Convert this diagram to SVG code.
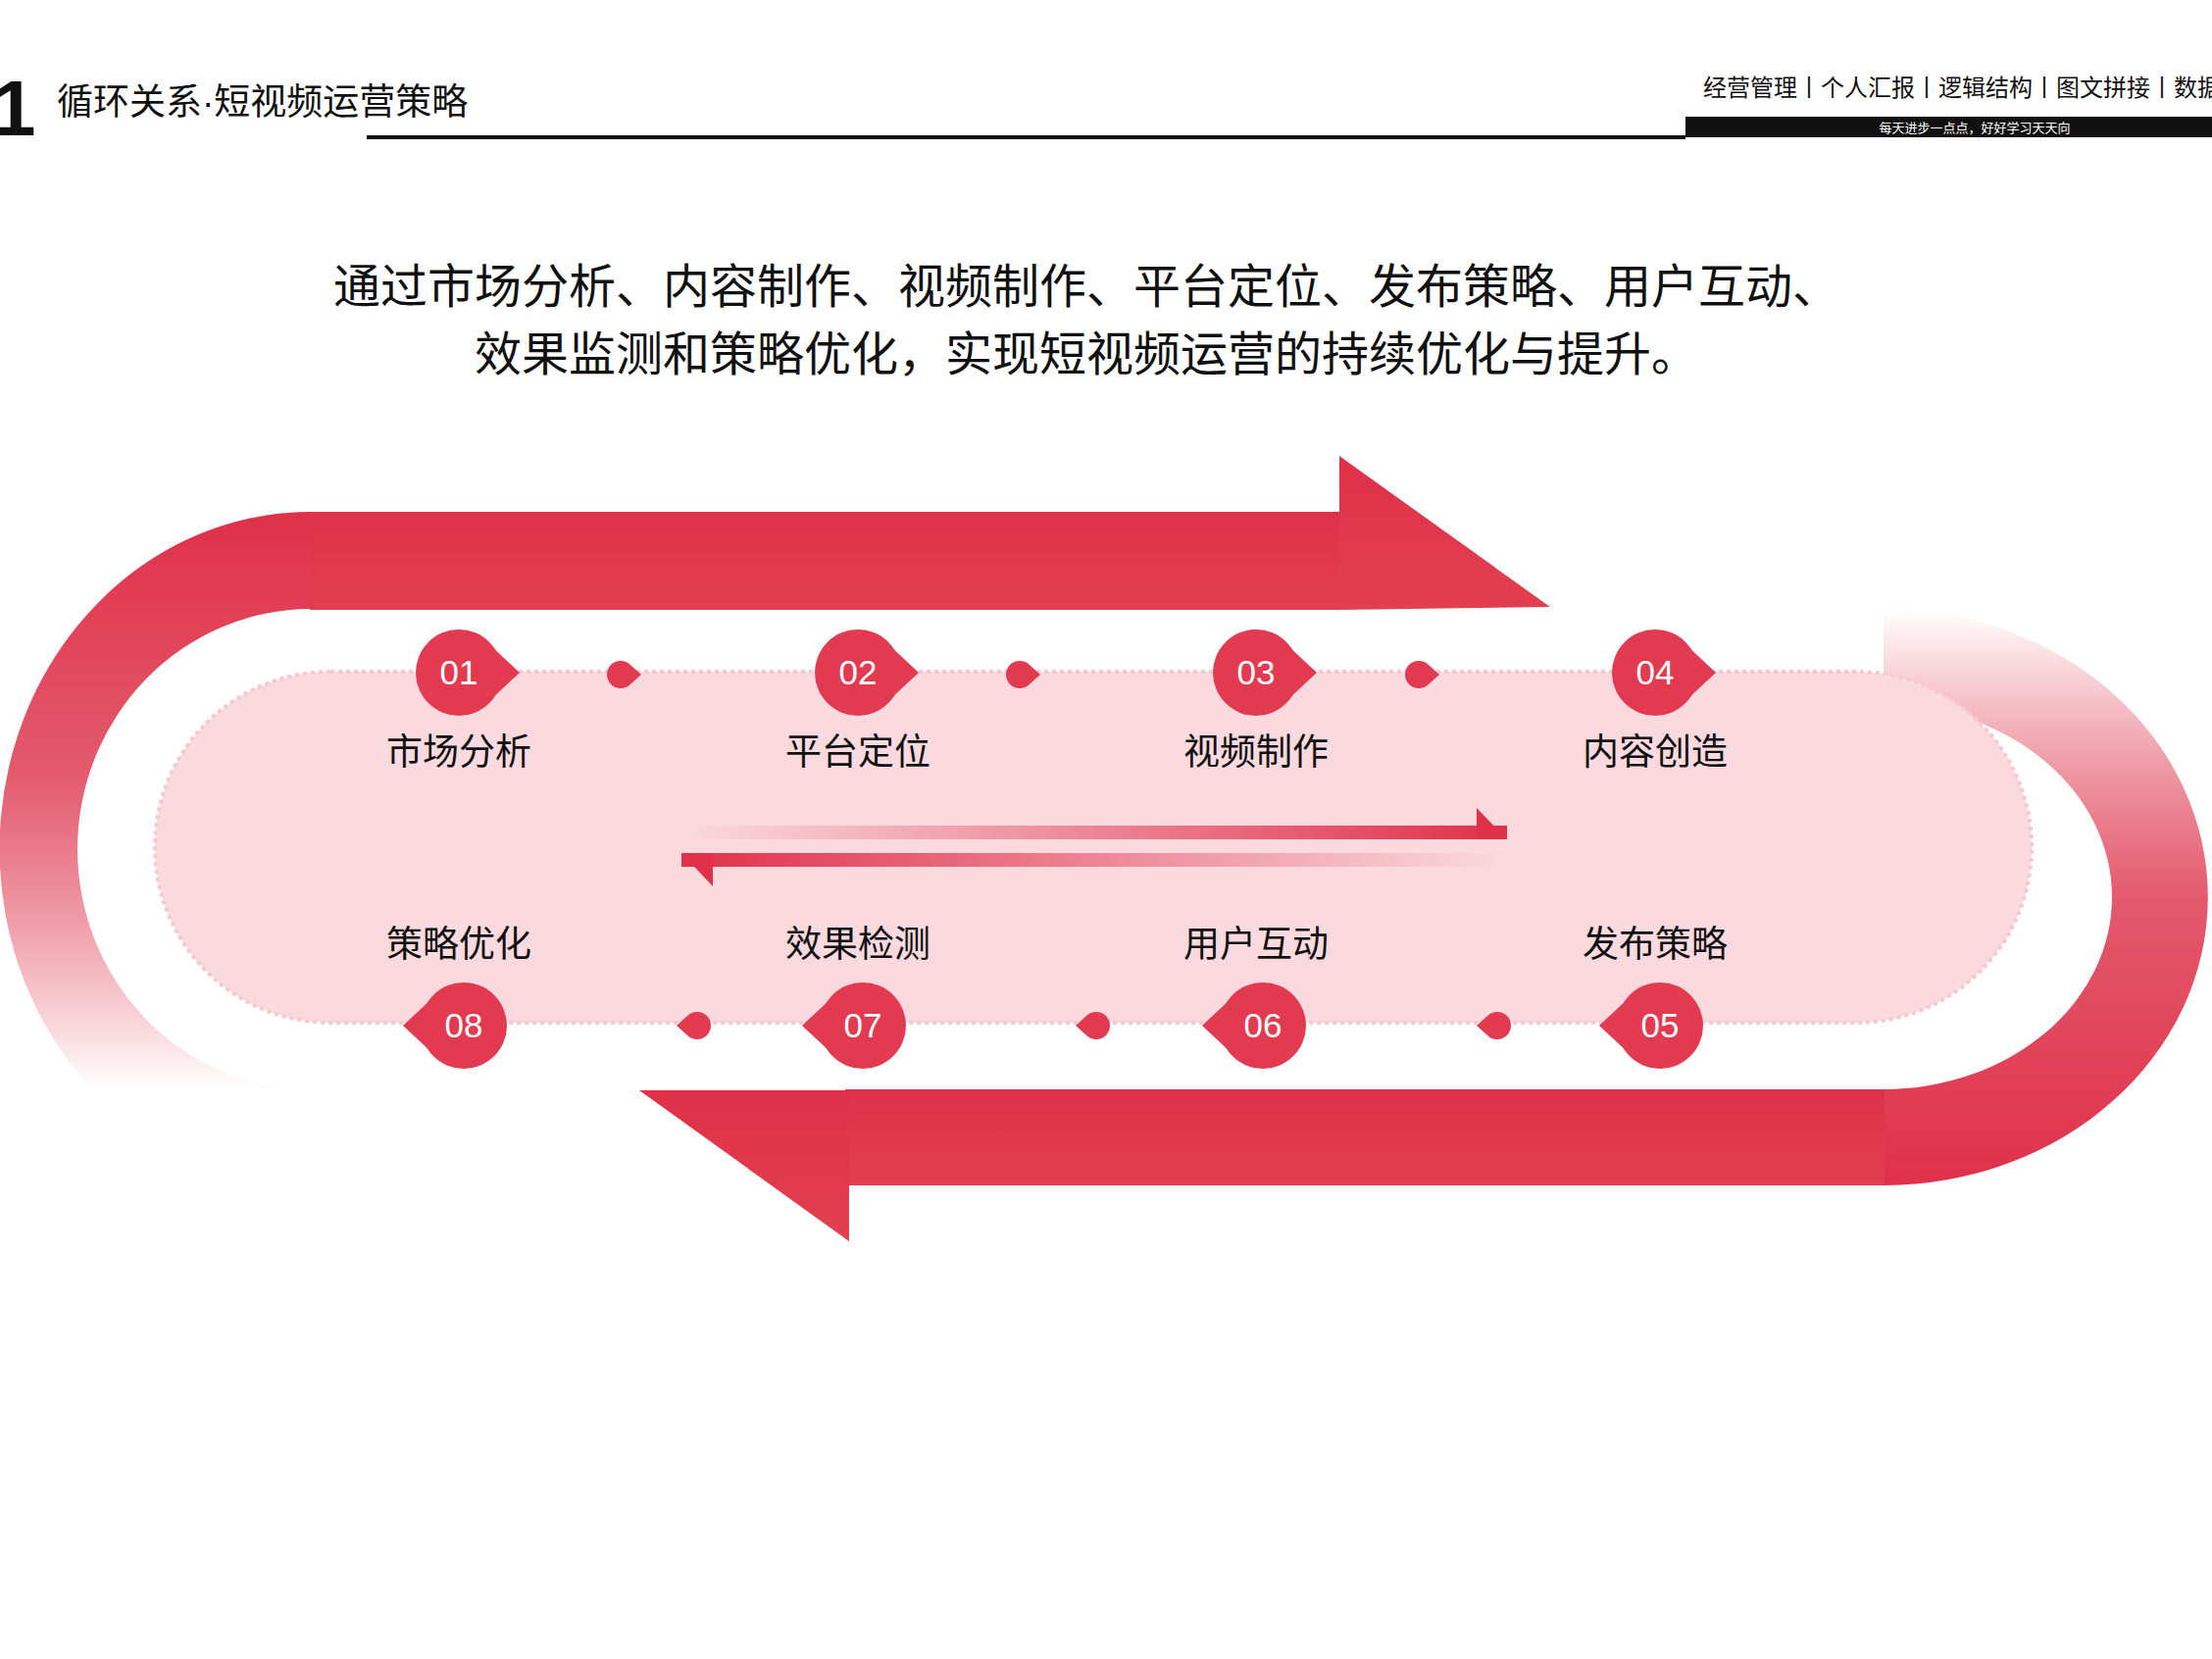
<svg xmlns="http://www.w3.org/2000/svg" width="2256" height="1692" viewBox="0 0 2256 1692">
<defs>
<style>
.t{font-family:"Liberation Sans","Noto Sans CJK SC",sans-serif;fill:#111}
.lab{font-size:37px;text-anchor:middle}
.num{font-family:"Liberation Sans","Noto Sans",sans-serif;font-size:35px;fill:#fff;text-anchor:middle}
.nc{fill:#e23a50}
</style>
<linearGradient id="band" x1="0" y1="0" x2="0" y2="1"><stop offset="0" stop-color="#e0304a"/><stop offset="1" stop-color="#e1404f"/></linearGradient>
<linearGradient id="lft" x1="0" y1="0" x2="0" y2="1"><stop offset="0" stop-color="#e0304a"/><stop offset="0.45" stop-color="#e35a6c"/><stop offset="1" stop-color="#e0304a" stop-opacity="0"/></linearGradient>
<linearGradient id="rgt" x1="0" y1="0" x2="0" y2="1"><stop offset="0" stop-color="#e0304a" stop-opacity="0"/><stop offset="0.5" stop-color="#e35a6c"/><stop offset="1" stop-color="#e0304a"/></linearGradient>
<linearGradient id="ga" x1="0" y1="0" x2="1" y2="0"><stop offset="0" stop-color="#e0304a" stop-opacity="0"/><stop offset="1" stop-color="#e0304a"/></linearGradient>
<linearGradient id="gb" x1="0" y1="0" x2="1" y2="0"><stop offset="0" stop-color="#e0304a"/><stop offset="1" stop-color="#e0304a" stop-opacity="0"/></linearGradient>
</defs>
<rect width="2256" height="1692" fill="#fff"/>
<g id="header">
<text x="-8" y="138" class="t" style="font-size:80px;font-weight:bold">1</text>
<text x="58" y="117" class="t" style="font-size:37px">循环关系·短视频运营策略</text>
<rect x="374" y="138" width="1345" height="4" fill="#111"/>
<rect x="1719" y="119" width="537" height="21" fill="#111"/>
<text x="2014" y="135" class="t" style="font-size:13px;fill:#fff;text-anchor:middle">每天进步一点点，好好学习天天向</text>
<text x="1737" y="98" class="t" style="font-size:24px">经营管理丨个人汇报丨逻辑结构丨图文拼接丨数据</text>
</g>
<g id="subtitle">
<text x="1108" y="309" class="t" style="font-size:48px;text-anchor:middle">通过市场分析、内容制作、视频制作、平台定位、发布策略、用户互动、</text>
<text x="1108" y="378" class="t" style="font-size:48px;text-anchor:middle">效果监测和策略优化，实现短视频运营的持续优化与提升。</text>
</g>
<g id="connectors">
<path d="M317 522 A317 344 0 0 0 94 1111 L317 1111 A238 245 0 0 1 317 621 Z" fill="url(#lft)"/>
<rect x="316" y="522" width="1052" height="100" fill="url(#band)"/>
<polygon points="1366,465 1581,619 1366,622" fill="url(#band)"/>
<path d="M1921 621 A331 294 0 0 1 1921 1209 L1921 1111 A233 196 0 0 0 1921 719 Z" fill="url(#rgt)"/>
<rect x="862" y="1111" width="1060" height="98" fill="url(#band)"/>
<polygon points="652,1112 866,1112 866,1266" fill="url(#band)"/>
<rect x="158" y="685" width="1914" height="358" rx="179" fill="#fadadf" stroke="#f6c9d0" stroke-width="4" stroke-dasharray="4 4"/>
<rect x="695" y="842" width="842" height="14" fill="url(#ga)"/>
<polygon points="1506,824 1537,856 1506,856" fill="#e0304a"/>
<rect x="695" y="870" width="842" height="14" fill="url(#gb)"/>
<polygon points="695,870 727,870 727,904" fill="#e0304a"/>
<g class="nc">
<circle cx="633" cy="688" r="14"/><polygon points="644,679 654,688 644,697"/>
<circle cx="1040" cy="688" r="14"/><polygon points="1051,679 1061,688 1051,697"/>
<circle cx="1447" cy="688" r="14"/><polygon points="1458,679 1468,688 1458,697"/>
<circle cx="711" cy="1046" r="14"/><polygon points="700,1037 690,1046 700,1055"/>
<circle cx="1118" cy="1046" r="14"/><polygon points="1107,1037 1097,1046 1107,1055"/>
<circle cx="1527" cy="1046" r="14"/><polygon points="1516,1037 1506,1046 1516,1055"/>
</g>
</g>
<g id="n01"><circle class="nc" cx="468" cy="686" r="44"/><polygon class="nc" points="500,658 530,686 500,714"/><text x="468" y="698" class="num">01</text><text x="468" y="780" class="t lab">市场分析</text></g>
<g id="n02"><circle class="nc" cx="875" cy="686" r="44"/><polygon class="nc" points="907,658 937,686 907,714"/><text x="875" y="698" class="num">02</text><text x="875" y="780" class="t lab">平台定位</text></g>
<g id="n03"><circle class="nc" cx="1281" cy="686" r="44"/><polygon class="nc" points="1313,658 1343,686 1313,714"/><text x="1281" y="698" class="num">03</text><text x="1281" y="780" class="t lab">视频制作</text></g>
<g id="n04"><circle class="nc" cx="1688" cy="686" r="44"/><polygon class="nc" points="1720,658 1750,686 1720,714"/><text x="1688" y="698" class="num">04</text><text x="1688" y="780" class="t lab">内容创造</text></g>
<g id="n05"><circle class="nc" cx="1693" cy="1046" r="44"/><polygon class="nc" points="1661,1018 1631,1046 1661,1074"/><text x="1693" y="1058" class="num">05</text><text x="1688" y="976" class="t lab">发布策略</text></g>
<g id="n06"><circle class="nc" cx="1288" cy="1046" r="44"/><polygon class="nc" points="1256,1018 1226,1046 1256,1074"/><text x="1288" y="1058" class="num">06</text><text x="1281" y="976" class="t lab">用户互动</text></g>
<g id="n07"><circle class="nc" cx="880" cy="1046" r="44"/><polygon class="nc" points="848,1018 818,1046 848,1074"/><text x="880" y="1058" class="num">07</text><text x="875" y="976" class="t lab">效果检测</text></g>
<g id="n08"><circle class="nc" cx="473" cy="1046" r="44"/><polygon class="nc" points="441,1018 411,1046 441,1074"/><text x="473" y="1058" class="num">08</text><text x="468" y="976" class="t lab">策略优化</text></g>
</svg>
